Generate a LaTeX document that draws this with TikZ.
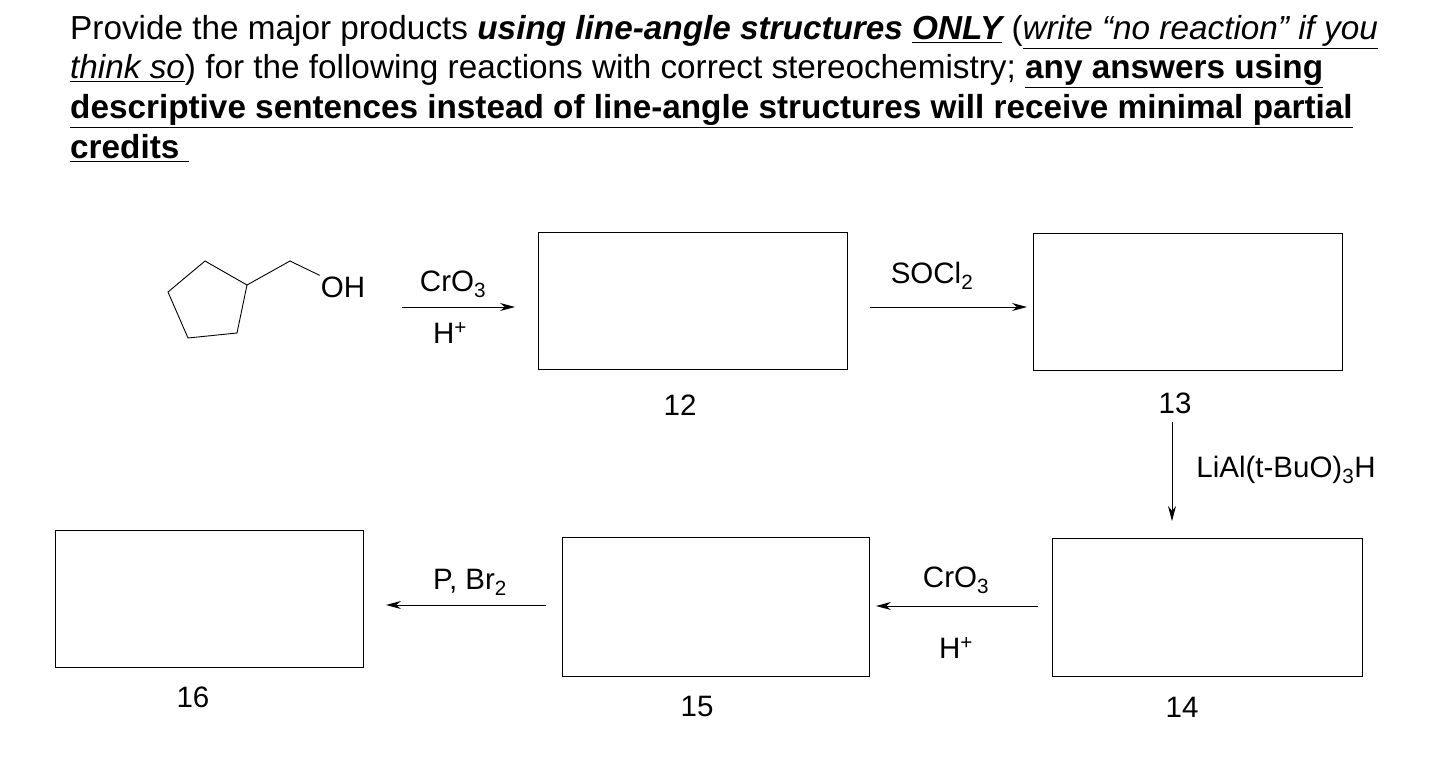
\documentclass[tikz,border=0pt]{standalone}
\usepackage{fontspec}
\setmainfont{Liberation Sans}
\usetikzlibrary{arrows.meta}
\newcommand{\sbs}[1]{\textsubscript{#1}}
\newcommand{\sps}[1]{\textsuperscript{#1}}
\begin{document}
\begin{tikzpicture}[x=1pt,y=-1pt,
  box/.style={draw,line width=0.9pt},
  bond/.style={line width=0.9pt},
  rxn/.style={line width=0.9pt,-{Stealth[length=15pt,width=8pt]}},
  title/.style={anchor=base west,inner sep=0pt,font=\fontsize{33.3}{38}\selectfont},
  lab/.style={font=\fontsize{29.5}{34}\selectfont,inner sep=0pt}]
\useasboundingbox (0,0) rectangle (1448,770);
\node[title] (t1) at (70,40) {Provide the major products \textbf{\textit{using line-angle structures \underline{ONLY}}} (\underline{\textit{write “no reaction” if you}}};
\node[title] (t2) at (70,79) {\underline{\textit{think so}}) for the following reactions with correct stereochemistry; \textbf{\underline{any answers using}}};
\node[title] (t3) at (70,119) {\textbf{\underline{descriptive sentences instead of line-angle structures will receive minimal partial}}};
\node[title] (t4) at (70,159) {\textbf{\underline{credits\ }}};
% molecule
\coordinate (r1) at (205,261); \coordinate (r2) at (247,285); \coordinate (r3) at (237,333);
\coordinate (r4) at (188,338); \coordinate (r5) at (168,292); \coordinate (c1) at (290,261);
\node[lab,inner sep=1pt] (oh) at (343,287) {OH};
\draw[bond] (r1)--(r2)--(r3)--(r4)--(r5)--cycle;
\draw[bond] (r2)--(c1)--(oh.north west);
% boxes
\node[box,minimum width=309pt,minimum height=137pt] (b12) at (692.5,301) {};
\node[box,minimum width=309pt,minimum height=137pt] (b13) at (1187.5,301.5) {};
\node[box,minimum width=310pt,minimum height=138pt] (b14) at (1207,607) {};
\node[box,minimum width=307pt,minimum height=139pt] (b15) at (715.5,606.5) {};
\node[box,minimum width=308pt,minimum height=137pt] (b16) at (209,598.5) {};
\node[lab] (n12) at (680,405) {12};
\node[lab] (n13) at (1175,403) {13};
\node[lab] (n14) at (1182,707) {14};
\node[lab] (n15) at (697,706) {15};
\node[lab] (n16) at (193,697) {16};
% arrows
\coordinate (a1s) at (402,307); \coordinate (a1e) at (515,307);
\draw[rxn] (a1s)--(a1e);
\node[lab] (cr1) at (453,284) {CrO\sbs{3}};
\node[lab] (h1) at (450,333) {H\sps{+}};
\coordinate (a2s) at (870,307); \coordinate (a2e) at (1027,307);
\draw[rxn] (a2s)--(a2e);
\node[lab] (so) at (932,276) {SOCl\sbs{2}};
\coordinate (a3s) at (1172,422); \coordinate (a3e) at (1172,521);
\draw[rxn] (a3s)--(a3e);
\node[lab] (li) at (1286,470) {LiAl(t-BuO)\sbs{3}H};
\coordinate (a4s) at (1038,606); \coordinate (a4e) at (876,606);
\draw[rxn] (a4s)--(a4e);
\node[lab] (cr2) at (956,580) {CrO\sbs{3}};
\node[lab] (h2) at (956,648) {H\sps{+}};
\coordinate (a5s) at (546,605); \coordinate (a5e) at (386,605);
\draw[rxn] (a5s)--(a5e);
\node[lab] (pbr) at (470,582) {P, Br\sbs{2}};
\end{tikzpicture}
\end{document}
